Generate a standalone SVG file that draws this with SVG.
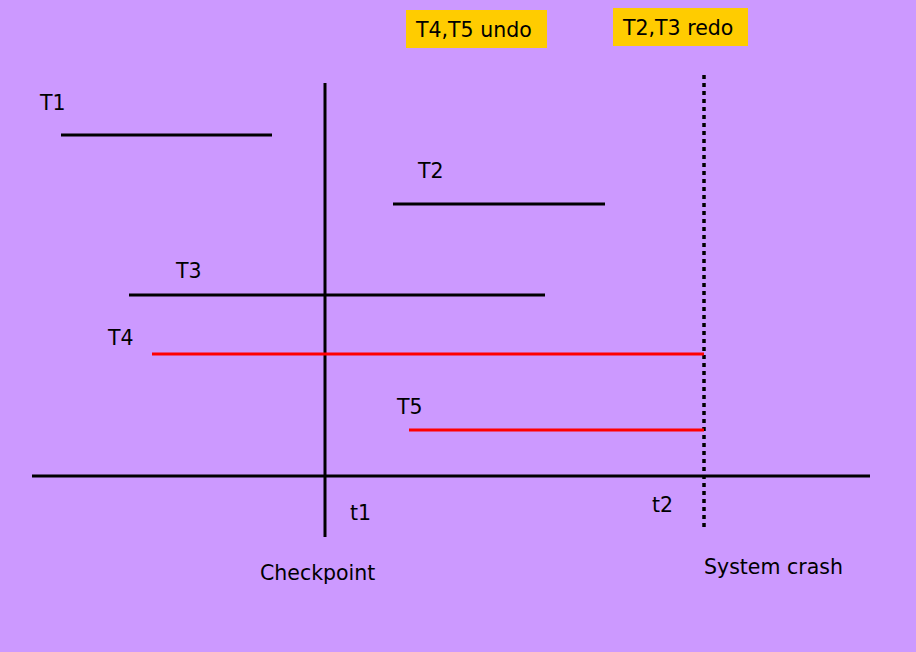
<svg xmlns="http://www.w3.org/2000/svg" width="916" height="652" viewBox="0 0 916 652">
<style>
text{font-family:"DejaVu Sans",sans-serif;font-size:20.5px;fill:#000}
.k{stroke:#000;stroke-width:3}
.r{stroke:#ff0000;stroke-width:3}
.y{fill:#ffcc00}
</style>
<rect width="916" height="652" fill="#cc99ff"/>
<g id="connectors">
<line class="k" x1="32" y1="476" x2="870" y2="476"/>
<line class="k" x1="325" y1="83" x2="325" y2="537"/>
<line x1="704" y1="75" x2="704" y2="528" stroke="#000" stroke-width="3.5" stroke-dasharray="4,4"/>
<line class="k" x1="61" y1="135" x2="272" y2="135"/>
<line class="k" x1="393" y1="204" x2="605" y2="204"/>
<line class="k" x1="129" y1="295" x2="545" y2="295"/>
<line class="r" x1="152" y1="354" x2="704" y2="354"/>
<line class="r" x1="409" y1="430" x2="704" y2="430"/>
</g>
<g id="undo"><rect class="y" x="406" y="10" width="141" height="38"/><text x="416" y="37">T4,T5 undo</text></g>
<g id="redo"><rect class="y" x="613" y="8" width="135" height="38"/><text x="623" y="35">T2,T3 redo</text></g>
<g id="T1"><text x="40" y="110">T1</text></g>
<g id="T2"><text x="418" y="178">T2</text></g>
<g id="T3"><text x="176" y="278">T3</text></g>
<g id="T4"><text x="108" y="345">T4</text></g>
<g id="T5"><text x="397" y="414">T5</text></g>
<g id="t1"><text x="350" y="520">t1</text></g>
<g id="t2"><text x="652" y="512">t2</text></g>
<g id="checkpoint"><text x="260" y="580">Checkpoint</text></g>
<g id="crash"><text x="704" y="574">System crash</text></g>
</svg>
